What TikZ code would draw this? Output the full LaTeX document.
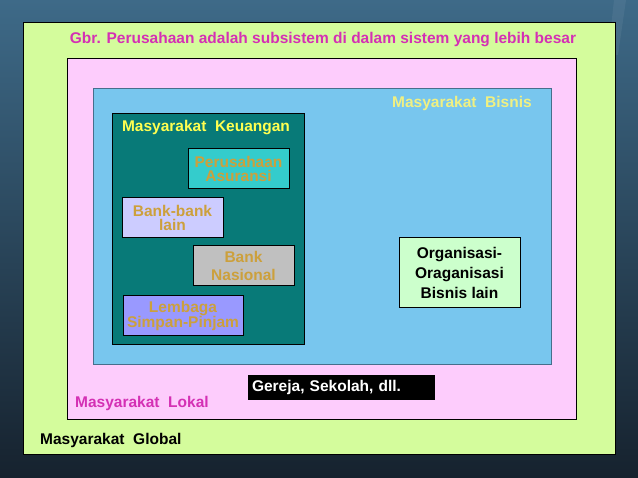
\documentclass[tikz,border=0pt]{standalone}
\usepackage{fontspec}
\setmainfont{Liberation Sans}
\usetikzlibrary{positioning}
\definecolor{globalcolor}{RGB}{212, 252, 156}
\definecolor{lokalcolor}{RGB}{253, 204, 252}
\definecolor{bisniscolor}{RGB}{120, 198, 238}
\definecolor{keuangancolor}{RGB}{8, 122, 120}
\definecolor{asuransicolor}{RGB}{52, 204, 204}
\definecolor{banklaincolor}{RGB}{204, 204, 255}
\definecolor{nasionalcolor}{RGB}{192, 192, 192}
\definecolor{lembagacolor}{RGB}{153, 153, 255}
\definecolor{organisasicolor}{RGB}{204, 255, 204}
\definecolor{goldtext}{RGB}{204, 160, 60}
\definecolor{magentatext}{RGB}{212, 48, 180}
\definecolor{yellowtext}{RGB}{255, 255, 80}
\definecolor{paleyellow}{RGB}{240, 240, 130}
\definecolor{bgtop}{RGB}{62, 106, 136}
\definecolor{bgbottom}{RGB}{22, 34, 46}
\definecolor{bisnisborder}{RGB}{70, 110, 140}
\tikzset{
  every node/.append style={align=center, font=\bfseries\fontsize{15.5}{16}\selectfont},
  region/.style={draw=black, line width=0.9pt},
  unitbox/.style={draw=black, line width=1pt, minimum width=101pt, minimum height=40pt, inner sep=0pt, text=goldtext},
}

\begin{document}
\begin{tikzpicture}[x=1pt, y=-1pt]
    % Background
    \shade[top color=bgtop, bottom color=bgbottom] (0,0) rectangle (638,478);
    \fill[white, opacity=0.06] (614,0) -- (626,0) -- (618,55) -- (608,55) -- cycle;
    \useasboundingbox (0,0) rectangle (638,478);

    % Nested regions
    \draw[region, fill=globalcolor] (23,22) rectangle (615,454);
    \draw[region, fill=lokalcolor] (67,58) rectangle (576,419);
    \draw[draw=bisnisborder, line width=0.9pt, fill=bisniscolor] (93,88) rectangle (551,364);
    \draw[region, fill=keuangancolor] (112,113) rectangle (304,344);

    % Region labels
    \node[text=magentatext] (judul) at (323,40) {Gbr. Perusahaan adalah subsistem di dalam sistem yang lebih besar};
    \node[text=paleyellow] (bisnis) at (462,103) {Masyarakat~~Bisnis};
    \node[text=yellowtext] (keuangan) at (206,128) {Masyarakat~~Keuangan};
    \node[anchor=west, text=magentatext, inner sep=0pt] (lokal) at (75,403) {Masyarakat~~Lokal};
    \node[anchor=west, text=black, inner sep=0pt] (global) at (40,440) {Masyarakat~~Global};

    % Financial units
    \node[unitbox, fill=asuransicolor, font=\bfseries\fontsize{15.5}{14}\selectfont] (asuransi) at (238.5,169) {Perusahaan\\Asuransi};
    \node[unitbox, fill=banklaincolor, font=\bfseries\fontsize{15.5}{14.5}\selectfont] (banklain) at (172.5,218) {Bank-bank\\lain};
    \node[unitbox, fill=nasionalcolor, font=\bfseries\fontsize{15.5}{18}\selectfont] (nasional) at (243.5,266) {Bank\\Nasional};
    \node[unitbox, fill=lembagacolor, minimum width=120pt, font=\bfseries\fontsize{15.5}{15}\selectfont] (lembaga) at (183,316) {Lembaga\\Simpan-Pinjam};

    % Other organisations
    \node[draw=black, line width=1pt, fill=organisasicolor, minimum width=121pt, minimum height=70pt, inner sep=0pt, font=\bfseries\fontsize{15.5}{20}\selectfont] (organisasi) at (459.5,273) {Organisasi-\\Oraganisasi\\Bisnis lain};
    \node[fill=black, text=white, minimum width=187pt, minimum height=25pt, inner sep=0pt, text width=179pt, align=left] (gereja) at (341.5,387.5) {Gereja, Sekolah, dll.};
\end{tikzpicture}
\end{document}
